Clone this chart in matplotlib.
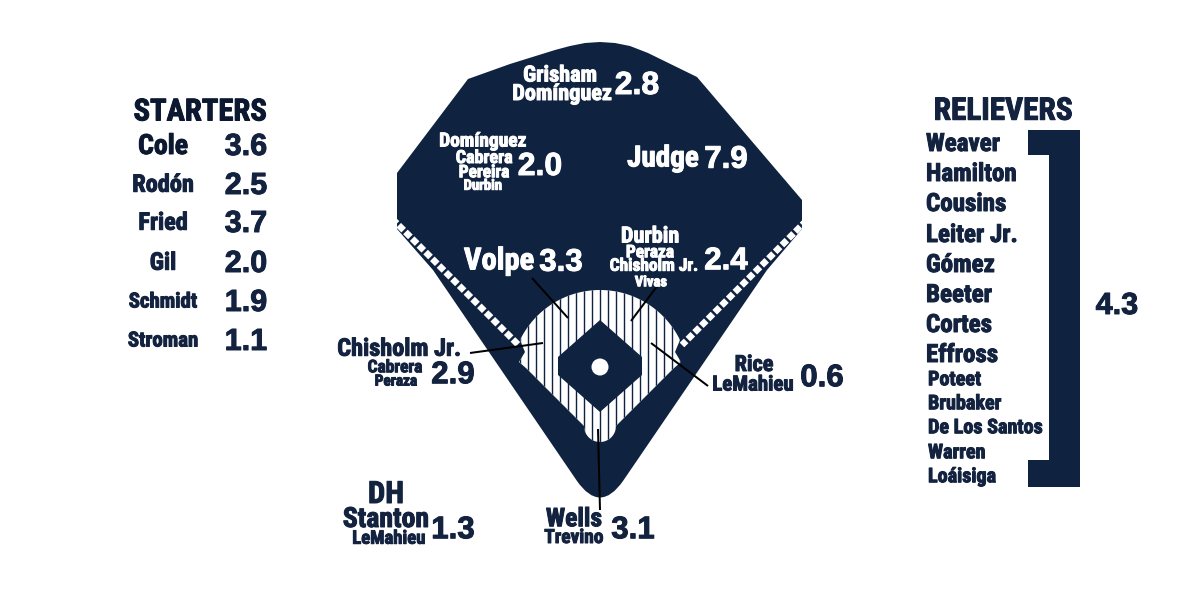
import os
import numpy as np
import matplotlib
matplotlib.use('Agg')
import matplotlib.pyplot as plt
from matplotlib import font_manager as fm
from matplotlib import patheffects as pe
from matplotlib.path import Path
from matplotlib.patches import PathPatch, Polygon, Circle

NAVY = '#0f2341'
INK = '#12223f'
DARK = '#0b1830'
PX = 0.72  # points per pixel at 100 dpi

# ---- data ----
starters = ['Cole', 'Rodón', 'Fried', 'Gil', 'Schmidt', 'Stroman']
starter_war = [3.6, 2.5, 3.7, 2.0, 1.9, 1.1]

relievers = ['Weaver', 'Hamilton', 'Cousins', 'Leiter Jr.', 'Gómez', 'Beeter',
             'Cortes', 'Effross', 'Poteet', 'Brubaker', 'De Los Santos',
             'Warren', 'Loáisiga']
reliever_war = 4.3

cf_names = ['Grisham', 'Domínguez']
cf_war = 2.8
lf_names = ['Domínguez', 'Cabrera', 'Pereira', 'Durbin']
lf_war = 2.0
rf_names = ['Judge']
rf_war = 7.9
ss_names = ['Volpe']
ss_war = 3.3
b2_names = ['Durbin', 'Peraza', 'Chisholm Jr.', 'Vivas']
b2_war = 2.4
b3_names = ['Chisholm Jr.', 'Cabrera', 'Peraza']
b3_war = 2.9
b1_names = ['Rice', 'LeMahieu']
b1_war = 0.6
c_names = ['Wells', 'Trevino']
c_war = 3.1
dh_names = ['Stanton', 'LeMahieu']
dh_war = 1.3


def find_font(files, fallback):
    have = {}
    for f in fm.fontManager.ttflist:
        have.setdefault(os.path.basename(f.fname), f.fname)
    for name in files:
        if name in have:
            return fm.FontProperties(fname=have[name])
    return fallback


name_fp = find_font(['LiberationSansNarrow-Bold.ttf', 'RobotoCondensed-Bold.ttf',
                     'NotoSans-CondensedBold.ttf', 'DejaVuSansCondensed-Bold.ttf'],
                    fm.FontProperties(family='DejaVu Sans', weight='bold'))
num_fp = find_font(['LiberationSans-Bold.ttf', 'Roboto-Bold.ttf'],
                   fm.FontProperties(family='DejaVu Sans', weight='bold'))

fig = plt.figure(figsize=(12, 6), dpi=100)
ax = fig.add_axes([0, 0, 1, 1])
ax.set_xlim(0, 1200)
ax.set_ylim(600, 0)
ax.axis('off')


def label(x, yc, s, size, color='white', fp=None, ha='center'):
    p = (fp or name_fp).copy()
    p.set_size(size)
    cap = 0.72 * size / PX
    ax.text(x, yc + cap / 2, s, fontproperties=p, color=color,
            ha=ha, va='baseline', zorder=10,
            path_effects=[pe.withStroke(linewidth=0.7, foreground=color)])


def group(names, war, spots, sizes, num_spot, color='white', num_size=22.5):
    for n, (x, y), s in zip(names, spots, sizes):
        label(x, y, n, s, color)
    label(num_spot[0], num_spot[1], f'{war:.1f}', num_size, color, fp=num_fp)


# ---- field ----
M, L, C = Path.MOVETO, Path.LINETO, Path.CURVE3
outline = [(468, 79), (510, 64), (555, 50), (570, 46), (585, 43), (600, 42),
           (615, 43), (630, 46), (648, 53), (697, 77), (802, 200), (802, 229),
           (767, 270), (623, 481), (600, 514), (577, 481), (433, 270),
           (397, 229), (397, 173), (468, 79)]
codes = [M] + [L] * 13 + [C, C] + [L] * 3 + [Path.CLOSEPOLY]
field = PathPatch(Path(outline, codes), fc=NAVY, ec='none', zorder=1)
ax.add_patch(field)

plt.rcParams['lines.scale_dashes'] = False
for xs, ys in [([392, 518], [218.5, 344.5]), ([807, 682], [220, 345])]:
    ln, = ax.plot(xs, ys, color='white', lw=6.5 * PX, dashes=(7 * PX, 2.5 * PX),
                  solid_capstyle='butt', dash_capstyle='butt', zorder=2)
    ln.set_clip_path(field)

# infield dirt with pinstripes
t = np.radians(np.linspace(154, 26, 60))
arc = list(zip(600 + 89 * np.cos(t), 379 - 89 * np.sin(t)))
h = np.radians(np.linspace(0, 180, 30))
home = list(zip(600 + 16 * np.cos(h), 426 + 16 * np.sin(h)))
infield_pts = (arc + [(675, 352), (681, 362), (673, 369)] + home
               + [(527, 369), (519, 362), (525, 352)])
infield = Polygon(infield_pts, closed=True, fc='white', ec='none', zorder=3)
ax.add_patch(infield)
for x in np.arange(520, 684, 8):
    ln, = ax.plot([x, x], [280, 450], color=NAVY, lw=1.0, zorder=4)
    ln.set_clip_path(infield)

diamond = [(600, 320), (558, 357), (558, 375), (600, 412), (642, 375), (642, 357)]
ax.add_patch(Polygon(diamond, closed=True, fc=NAVY, ec='none', zorder=5))
ax.add_patch(Circle((600, 367), 8.5, fc='white', ec='none', zorder=6))

# leader lines
for (x0, y0), (x1, y1) in [((532, 278), (568, 318)), ((658, 285), (631, 321)),
                           ((470, 353), (543, 343)), ((651, 343), (708, 386)),
                           ((598, 429), (600, 510))]:
    ax.plot([x0, x1], [y0, y1], color='black', lw=2 * PX, zorder=7,
            solid_capstyle='butt')

# ---- field labels ----
group(cf_names, cf_war, [(560, 73.5), (562, 92)], [16, 16], (637, 82.5), num_size=23)
group(lf_names, lf_war, [(483, 139.5), (484, 156.5), (484, 171), (483, 184.5)],
      [14, 13, 12.5, 10.5], (540, 163.5), num_size=23)
group(rf_names, rf_war, [(663, 156)], [21], (726, 156.5))
group(ss_names, ss_war, [(499, 258.5)], [22], (561, 259.5))
group(b2_names, b2_war, [(650, 234.5), (650, 251), (654, 264.5), (651, 281)],
      [16, 12.5, 12.5, 10.5], (726, 258))
group(b3_names, b3_war, [(399, 347), (395, 366), (396, 380)], [17.5, 12.5, 11],
      (453, 372), color=INK)
group(b1_names, b1_war, [(754, 363), (753, 383)], [16, 15], (822, 375), color=INK)
group(c_names, c_war, [(574, 517), (574, 536)], [18.5, 14], (633, 527), color=INK)
label(386, 492, 'DH', 22, INK)
group(dh_names, dh_war, [(386, 517), (389, 537)], [20, 13.5], (453, 527), color=INK)

# ---- starters ----
label(200, 109.5, 'STARTERS', 22, DARK)
starter_rows = [144, 183, 221, 261, 300, 339]
starter_sizes = [20, 17.5, 17.5, 17.5, 15, 15]
for i, (n, v, y, s) in enumerate(zip(starters, starter_war, starter_rows, starter_sizes)):
    label(163, y, n, s, DARK if i == 0 else INK)
    label(246, y, f'{v:.1f}', 22, INK, fp=num_fp)

# ---- relievers ----
label(1003, 108.5, 'RELIEVERS', 22.5, INK)
reliever_rows = [142, 172, 202, 233, 263, 293, 323, 353, 378, 402, 426, 451, 475]
for i, (n, y) in enumerate(zip(relievers, reliever_rows)):
    big = i < 8
    label(926 if big else 928, y, n, 18 if big else 14.5, INK, ha='left')
bracket = [(1028, 130), (1080, 130), (1080, 487), (1028, 487), (1028, 460),
           (1049, 460), (1049, 155), (1028, 155)]
ax.add_patch(Polygon(bracket, closed=True, fc=NAVY, ec='none'))
label(1117, 303, f'{reliever_war:.1f}', 22, INK, fp=num_fp)

fig.savefig('out.png', dpi=100)
